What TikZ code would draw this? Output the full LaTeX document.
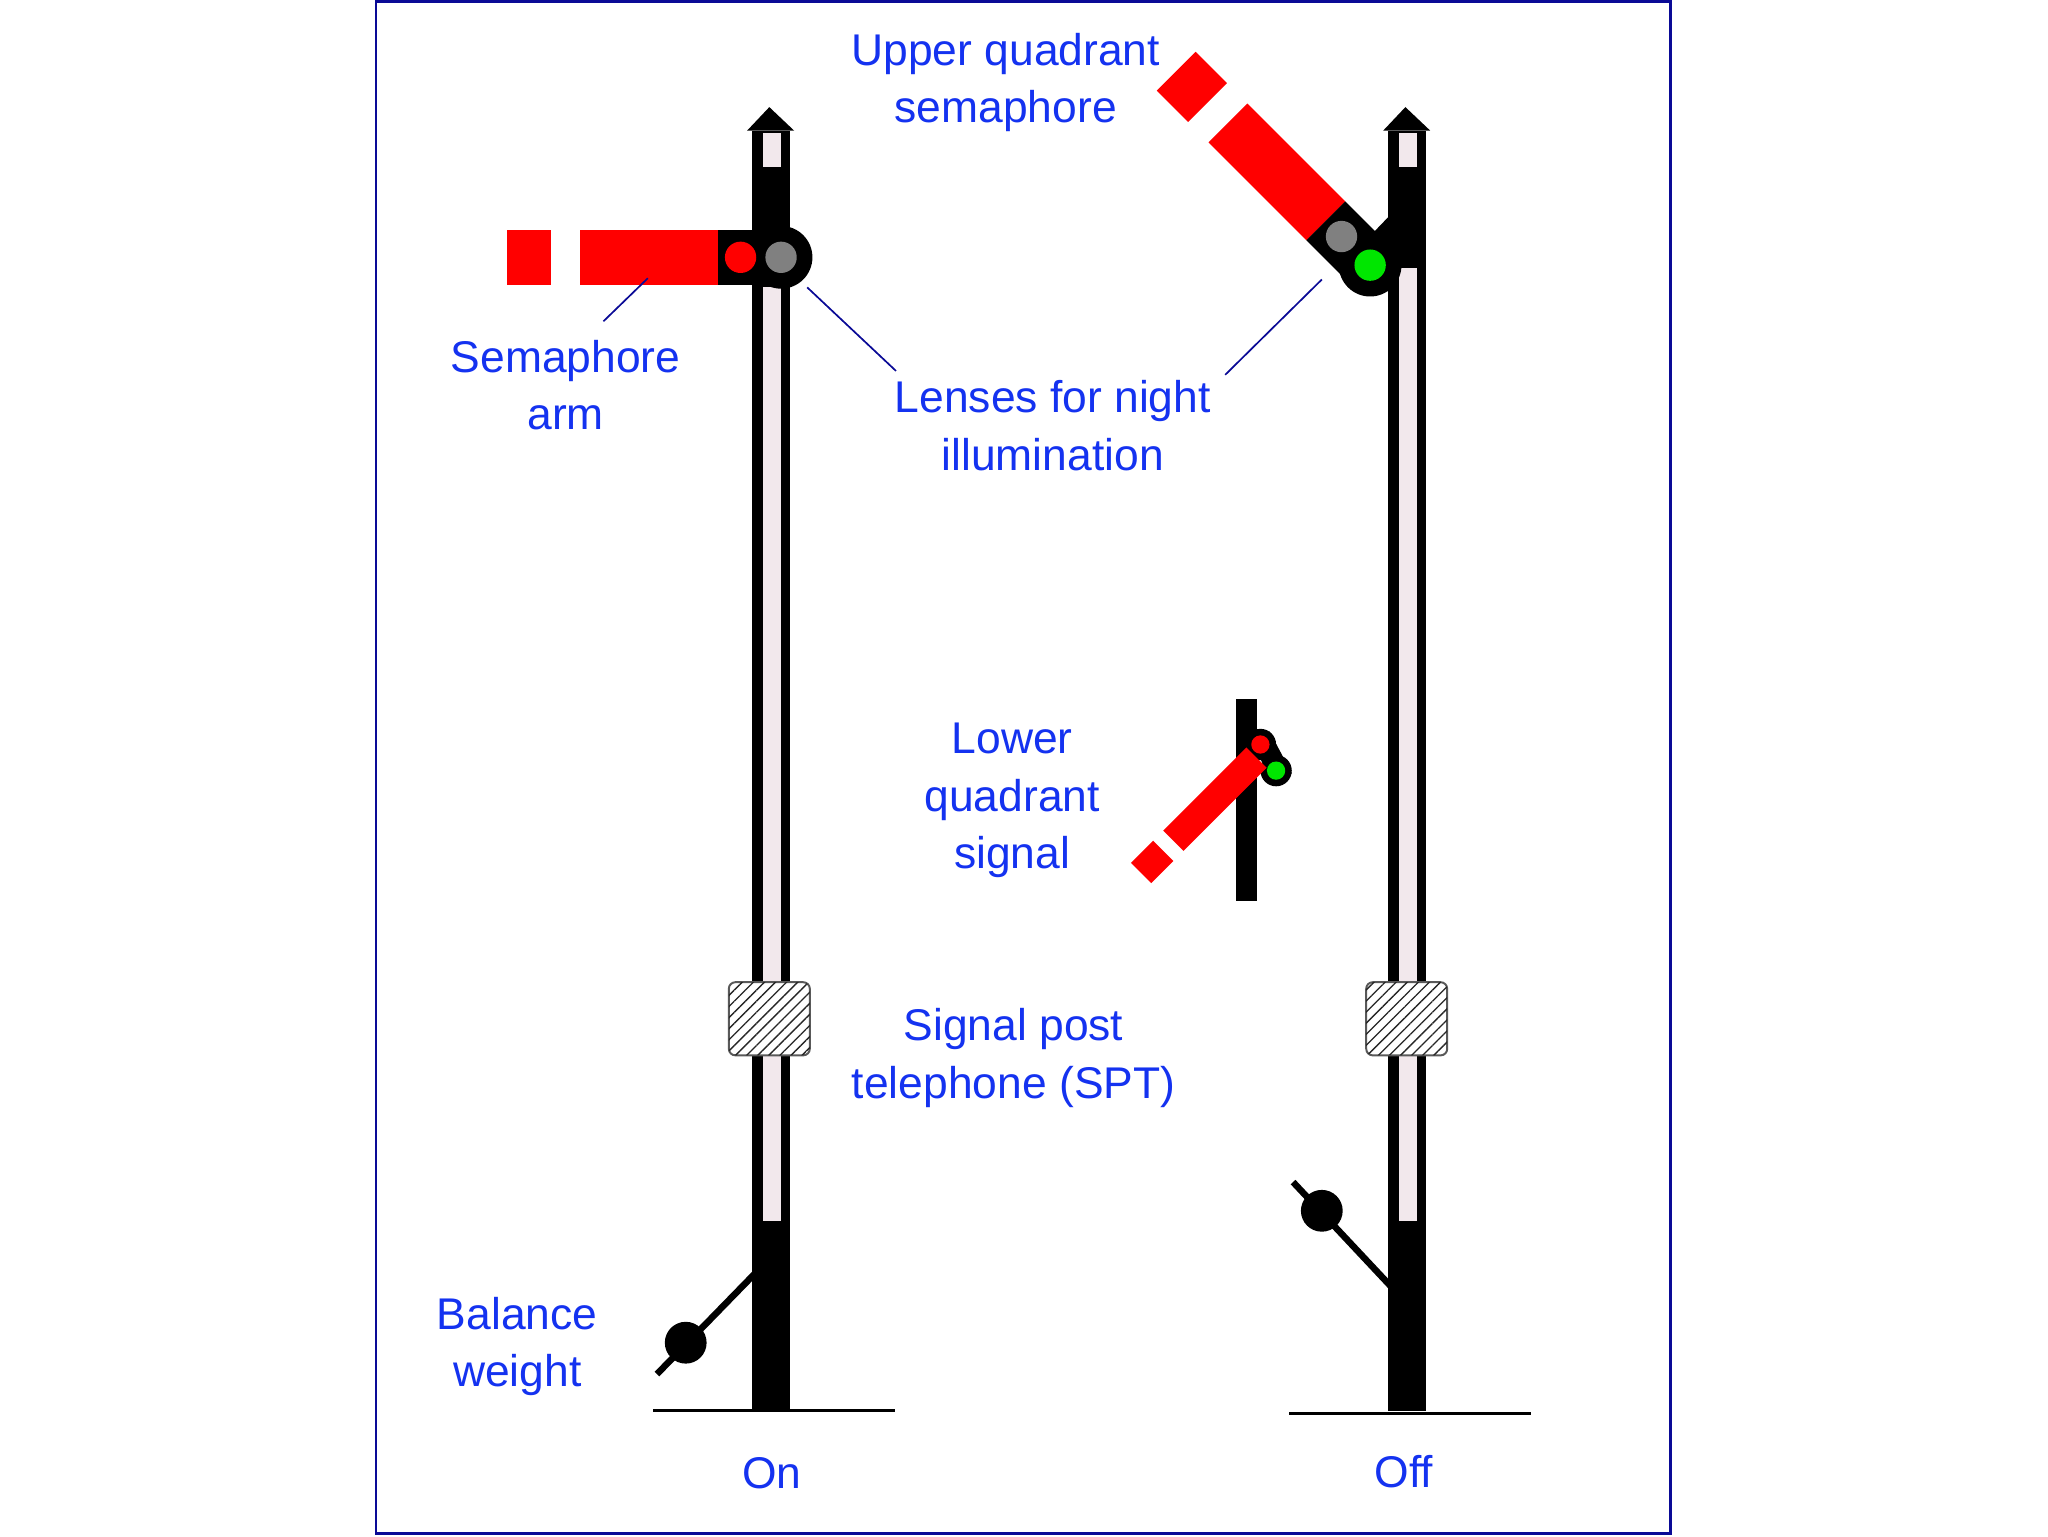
\documentclass[tikz,border=0pt]{standalone}
\usepackage{fontspec}
\setmainfont{Liberation Sans}
\usetikzlibrary{patterns.meta}
\definecolor{lbl}{RGB}{20,50,240}
\definecolor{frm}{RGB}{10,10,150}
\definecolor{postlt}{RGB}{242,232,236}
\definecolor{sred}{RGB}{255,0,0}
\definecolor{sgreen}{RGB}{0,230,0}
\definecolor{sgray}{RGB}{128,128,128}
\begin{document}
\begin{tikzpicture}[x=1pt,y=-1pt,
  lab/.style={text=lbl,font=\fontsize{34}{44}\selectfont,align=center},
  lead/.style={draw=frm,line width=1.3pt},
  spt/.style={draw=gray!70!black,line width=1.5pt,rounded corners=5pt,fill=white,
    postaction={pattern={Lines[angle=45,distance=6pt,line width=1pt]},pattern color=black!85}},
]
\useasboundingbox (0,0) rectangle (1568,1176);
\fill[white] (0,0) rectangle (1568,1176);
\draw[frm,line width=2pt] (288,1) rectangle (1279,1174);

% posts
\foreach \cx/\hb in {591/220,1078/205}{
  \fill[black] (\cx-15,100) rectangle (\cx+14,1080);
  \fill[black] (\cx-19,100) -- (\cx-2,82) -- (\cx+17,100) -- cycle;
  \fill[postlt] (\cx-7,102) rectangle (\cx+7,128);
  \fill[postlt] (\cx-7,\hb) rectangle (\cx+7,935);
}
% ground
\draw[line width=2pt] (500,1080) -- (685,1080);
\draw[line width=2pt] (987,1082) -- (1172,1082);

% SPT
\node[spt,minimum width=62pt,minimum height=56pt,inner sep=0pt] (sptL) at (589,780) {};
\node[spt,minimum width=62pt,minimum height=56pt,inner sep=0pt] (sptR) at (1077,780) {};

% balance weights
\draw[line width=5pt] (578,975) -- (503,1052);
\fill (525,1028) circle (16);
\draw[line width=5pt] (1065,985) -- (990,905);
\fill (1012,927) circle (16);

% left arm
\begin{scope}[shift={(598,197)}]
  \fill[sred] (-210,-21) rectangle (-176,21);
  \fill[sred] (-154,-21) rectangle (-48,21);
  \fill[black] (-48,-21) rectangle (0,21);
  \fill[black] (0,0) circle (24);
  \fill[sred] (-31,0) circle (12);
  \fill[sgray] (0,0) circle (12);
\end{scope}
% right arm
\fill[black] (1040,190) -- (1064,165) -- (1066,210) -- cycle;
\begin{scope}[shift={(1049,203)},rotate=-45]
  \fill[sred] (-210,-21) rectangle (-176,21);
  \fill[sred] (-154,-21) rectangle (-48,21);
  \fill[black] (-48,-21) rectangle (0,21);
  \fill[black] (0,0) circle (24);
  \fill[sgray] (-31,0) circle (12);
  \fill[sgreen] (0,0) circle (12);
\end{scope}

% lower quadrant signal
\fill[black] (946,535) rectangle (962,690);
\fill[black] (965,570) circle (12);
\fill[black] (977,590) circle (12);
\fill[black] (958,568) -- (972,560) -- (989,592) -- (975,600) -- cycle;
\fill[sred] (965,570) circle (7);
\fill[sgreen] (977,590) circle (7);
\begin{scope}[shift={(962,580)},rotate=45]
  \fill[sred] (-90,-11) rectangle (0,11);
  \fill[sred] (-125,-11) rectangle (-101,11);
\end{scope}

% labels
\node[lab] (uq) at (770,63) {Upper quadrant\\semaphore};
\node[lab] (sa) at (433,295) {Semaphore\\arm};
\node[lab] (ln) at (806,326) {Lenses for night\\illumination};
\node[lab] (lq) at (775,613) {Lower\\quadrant\\signal};
\node[lab] (sp) at (776,810) {Signal post\\telephone (SPT)};
\node[lab] (bw) at (396,1031) {Balance\\weight};
\node[lab] (on) at (591,1128) {On};
\node[lab] (off) at (1075,1127) {Off};

\coordinate (a0) at (462,246);
\coordinate (a1) at (496,213);
\coordinate (l0) at (686,284);
\coordinate (l1) at (618,220);
\coordinate (m0) at (938,287);
\coordinate (l2) at (1012,214);
\draw[lead] (a0) -- (a1);
\draw[lead] (l0) -- (l1);
\draw[lead] (m0) -- (l2);
\end{tikzpicture}
\end{document}
